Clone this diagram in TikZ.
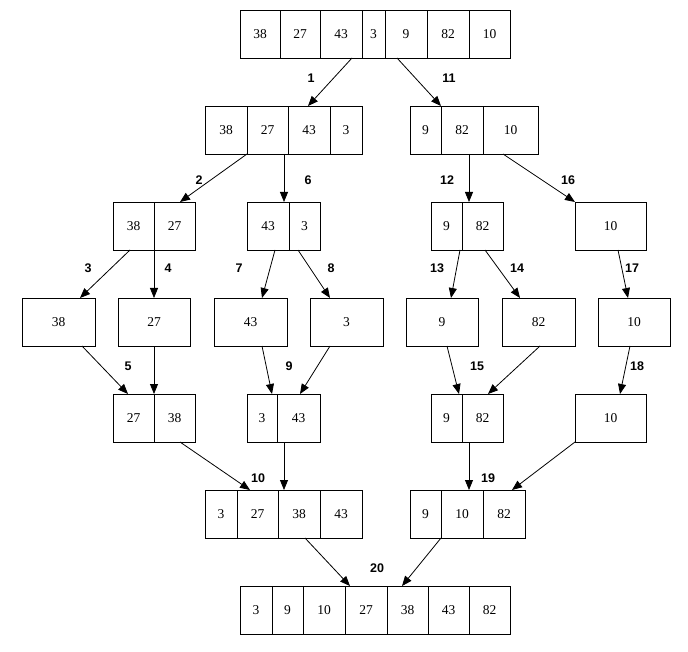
\documentclass[tikz,border=0pt]{standalone}
\usepackage{fontspec}
\setmainfont{Liberation Serif}
\newfontfamily\lblfont{Liberation Sans}
\usetikzlibrary{arrows.meta}
\tikzset{
  cellbox/.style={draw, line width=0.8pt, inner sep=0pt, minimum height=48pt, font=\fontsize{13.5}{15}\selectfont},
  edge/.style={-{Triangle[length=10pt,width=8pt]}, line width=0.8pt},
  lbl/.style={font=\lblfont\bfseries\fontsize{12.5}{14}\selectfont}
}
\newcommand\cel[5]{\node[cellbox, minimum width={(#3-#2)*1pt}] (#1) at ({(#2+#3)/2},{#4+24}) {#5};}
\newcommand\edg[4]{\coordinate (s) at (#1,#2); \coordinate (t) at (#3,#4); \draw[edge] (s) -- (t);}
\begin{document}
\begin{tikzpicture}[x=1pt,y=-1pt]
\useasboundingbox (0,0) rectangle (688,652);
\cel{a1}{240}{280}{10}{38}\cel{a2}{280}{320}{10}{27}\cel{a3}{320}{362}{10}{43}\cel{a4}{362}{385}{10}{3}
\cel{a5}{385}{427}{10}{9}\cel{a6}{427}{469}{10}{82}\cel{a7}{469}{510}{10}{10}
\cel{b1}{205}{247}{106}{38}\cel{b2}{247}{288}{106}{27}\cel{b3}{288}{330}{106}{43}\cel{b4}{330}{362}{106}{3}
\cel{b5}{410}{441}{106}{9}\cel{b6}{441}{483}{106}{82}\cel{b7}{483}{538}{106}{10}
\cel{c1}{113}{154}{202}{38}\cel{c2}{154}{195}{202}{27}
\cel{c3}{247}{289}{202}{43}\cel{c4}{289}{320}{202}{3}
\cel{c5}{431}{462}{202}{9}\cel{c6}{462}{503}{202}{82}
\cel{c7}{575}{646}{202}{10}
\cel{d1}{22}{95}{298}{38}\cel{d2}{118}{190}{298}{27}\cel{d3}{214}{287}{298}{43}\cel{d4}{310}{383}{298}{3}
\cel{d5}{406}{478}{298}{9}\cel{d6}{502}{575}{298}{82}\cel{d7}{598}{670}{298}{10}
\cel{e1}{113}{154}{394}{27}\cel{e2}{154}{195}{394}{38}
\cel{e3}{247}{277}{394}{3}\cel{e4}{277}{320}{394}{43}
\cel{e5}{431}{462}{394}{9}\cel{e6}{462}{503}{394}{82}
\cel{e7}{575}{646}{394}{10}
\cel{f1}{205}{237}{490}{3}\cel{f2}{237}{278}{490}{27}\cel{f3}{278}{320}{490}{38}\cel{f4}{320}{362}{490}{43}
\cel{f5}{410}{441}{490}{9}\cel{f6}{441}{483}{490}{10}\cel{f7}{483}{525}{490}{82}
\cel{g1}{240}{272}{586}{3}\cel{g2}{272}{303}{586}{9}\cel{g3}{303}{345}{586}{10}\cel{g4}{345}{387}{586}{27}
\cel{g5}{387}{428}{586}{38}\cel{g6}{428}{469}{586}{43}\cel{g7}{469}{510}{586}{82}
% edges
\edg{352}{58}{308}{106}
\edg{397}{58}{441}{106}
\edg{247}{154}{180}{202}
\edg{284}{154}{284}{202}
\edg{469}{154}{469}{202}
\edg{503}{154}{575}{202}
\edg{130}{250}{80}{298}
\edg{154}{250}{154}{298}
\edg{275}{250}{262}{298}
\edg{298}{250}{330}{298}
\edg{460}{250}{451}{298}
\edg{485}{250}{520}{298}
\edg{618}{250}{628}{298}
\edg{82}{346}{128}{394}
\edg{154}{346}{154}{394}
\edg{262}{346}{272}{394}
\edg{330}{346}{300}{394}
\edg{447}{346}{459}{394}
\edg{540}{346}{488}{394}
\edg{630}{346}{620}{394}
\edg{180}{442}{250}{490}
\edg{284}{442}{284}{490}
\edg{469}{442}{469}{490}
\edg{575}{442}{512}{490}
\edg{305}{538}{350}{586}
\edg{441}{538}{402}{586}
% labels
\node[lbl] (l1) at (311,78) {1};
\node[lbl] (l11) at (449,78) {11};
\node[lbl] (l2) at (199,180) {2};
\node[lbl] (l6) at (308,180) {6};
\node[lbl] (l12) at (447,180) {12};
\node[lbl] (l16) at (568,180) {16};
\node[lbl] (l3) at (88,268) {3};
\node[lbl] (l4) at (168,268) {4};
\node[lbl] (l7) at (239,268) {7};
\node[lbl] (l8) at (331,268) {8};
\node[lbl] (l13) at (437,268) {13};
\node[lbl] (l14) at (517,268) {14};
\node[lbl] (l17) at (632,268) {17};
\node[lbl] (l5) at (128,366) {5};
\node[lbl] (l9) at (289,366) {9};
\node[lbl] (l15) at (477,366) {15};
\node[lbl] (l18) at (637,366) {18};
\node[lbl] (l10) at (258,478) {10};
\node[lbl] (l19) at (488,478) {19};
\node[lbl] (l20) at (377,568) {20};
\end{tikzpicture}
\end{document}
